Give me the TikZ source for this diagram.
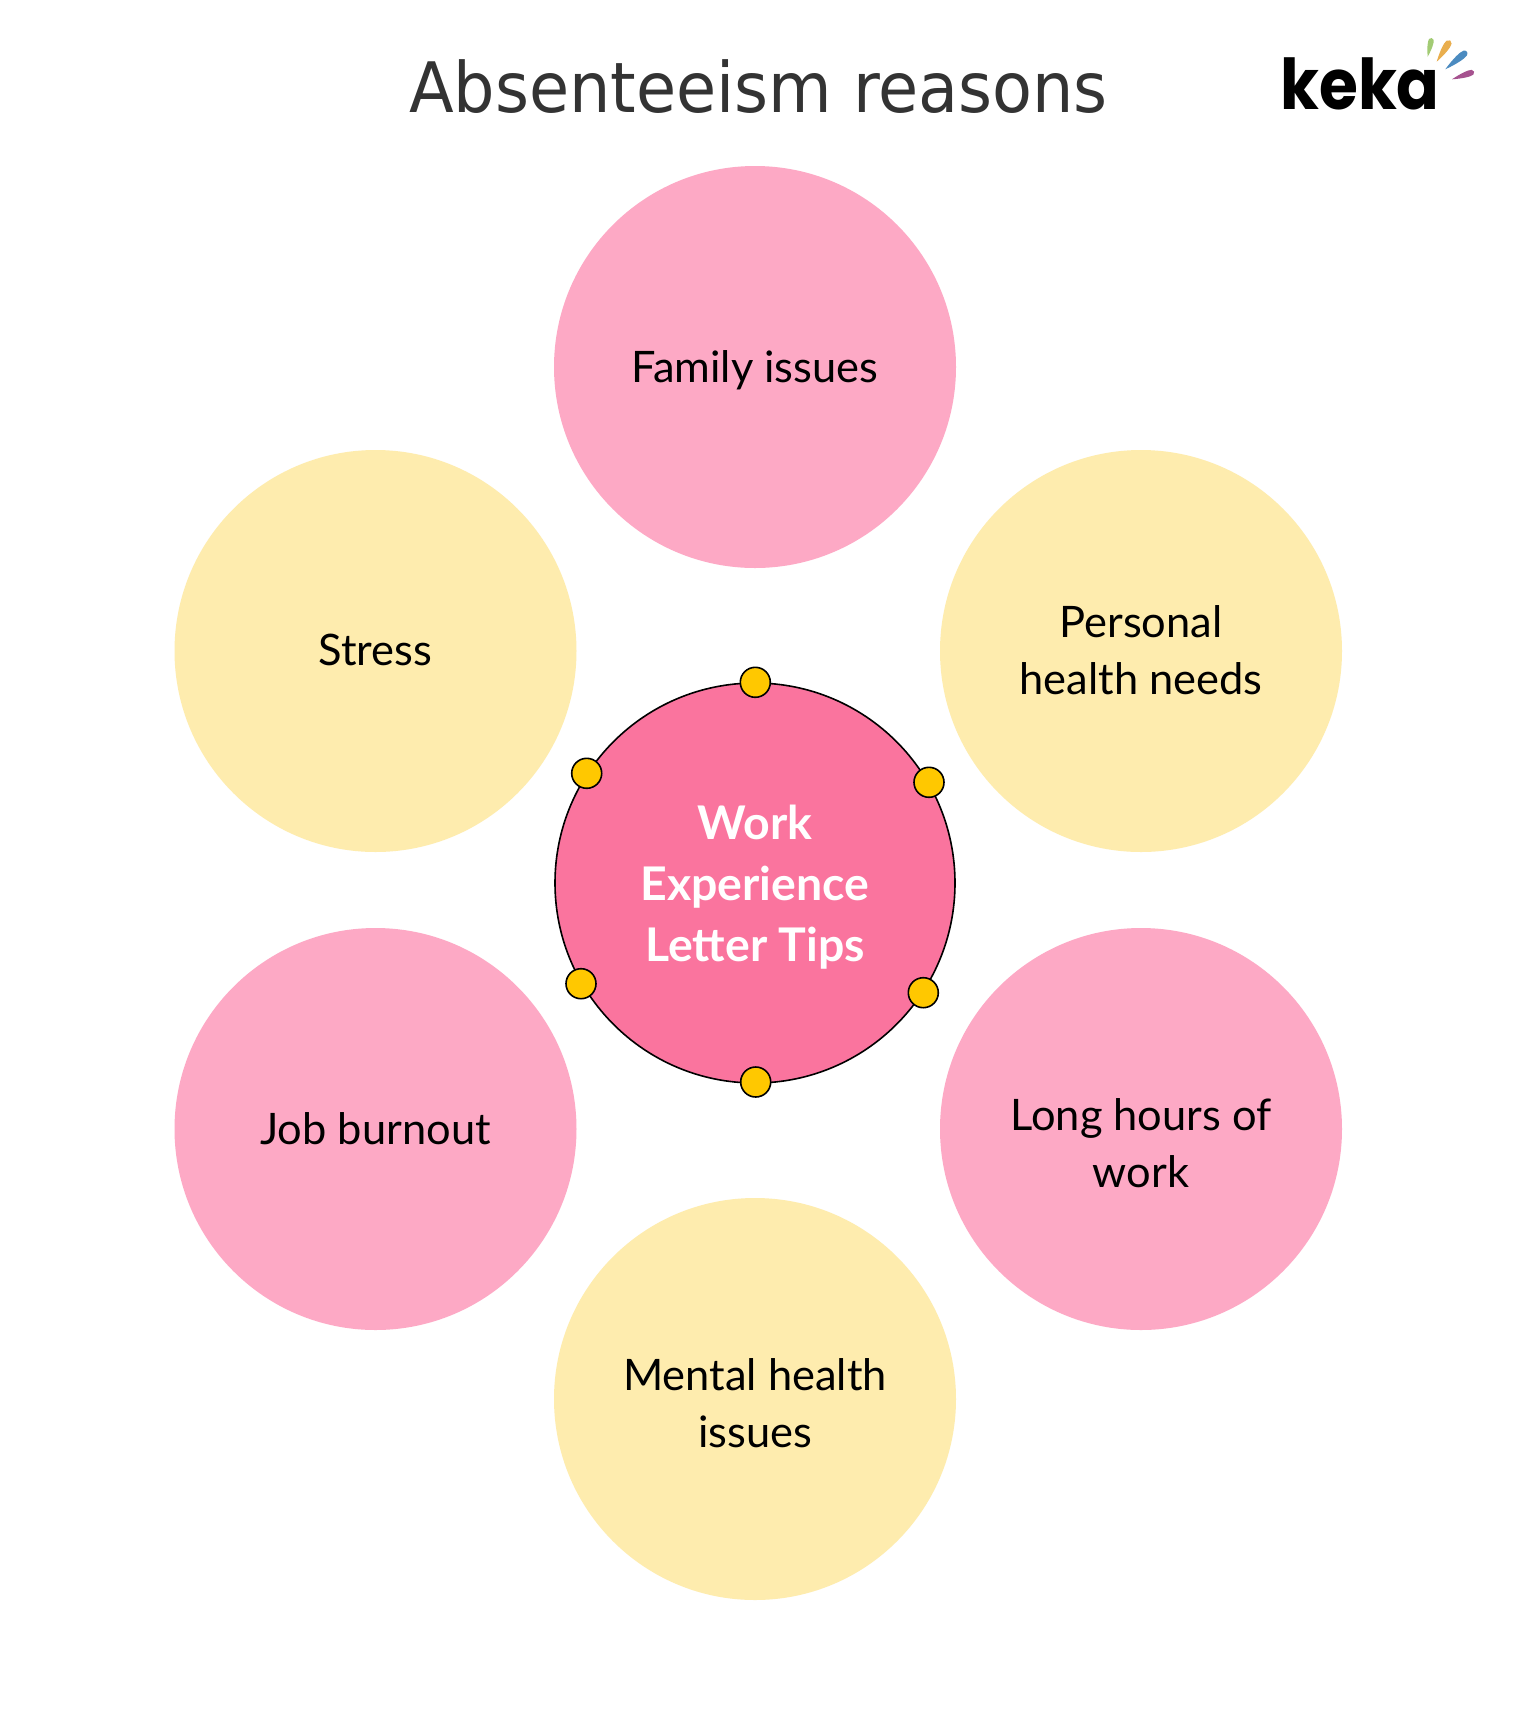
\documentclass[tikz,border=0pt]{standalone}
\usepackage{fontspec}
\setmainfont{Lato}
\newfontfamily\titlefont[FakeStretch=0.938]{DejaVu Sans}
\newfontfamily\logofont[FakeStretch=0.9]{Poppins}
\definecolor{pinkc}{HTML}{FDA9C5}
\definecolor{yellowc}{HTML}{FEECAE}
\definecolor{centerc}{HTML}{FA749E}
\definecolor{dotc}{HTML}{FFC800}
\definecolor{titlec}{HTML}{333333}
\definecolor{petalg}{HTML}{A2CB74}
\definecolor{petalo}{HTML}{E9AE4E}
\definecolor{petalb}{HTML}{4B8BC0}
\definecolor{petalp}{HTML}{A6528F}
\newcommand{\petal}[6]{\fill[#6,shift={(#1,#2)},rotate=#3] (0,0) .. controls (#4*0.45,#5) and (#4*0.8,#5*1.3) .. (#4*0.93,#5*0.9) .. controls (#4*1.03,#5*0.5) and (#4*1.03,-#5*0.5) .. (#4*0.93,-#5*0.9) .. controls (#4*0.8,-#5*1.3) and (#4*0.45,-#5) .. (0,0) -- cycle;}
\tikzset{
  bubble/.style={circle,draw=none,minimum size=201pt,inner sep=0pt},
  pinkbub/.style={bubble,fill=pinkc},
  yellowbub/.style={bubble,fill=yellowc},
  bubtext/.style={inner sep=0pt,align=center,text=black,font=\fontsize{21.7}{28.4}\selectfont},
  hub/.style={circle,draw=black,line width=0.8pt,fill=centerc,minimum size=200pt,inner sep=0pt},
  hubtext/.style={inner sep=0pt,align=center,text=white,font=\fontsize{23.2}{30.5}\selectfont\bfseries},
  dotn/.style={circle,draw=black,line width=0.8pt,fill=dotc,minimum size=15pt,inner sep=0pt}
}
\begin{document}
\begin{tikzpicture}[x=0.5pt,y=-0.5pt]
\useasboundingbox (0,0) rectangle (1517,1709);
\fill[white] (0,0) rectangle (1517,1709);
\node[anchor=center,text=titlec,font=\titlefont\fontsize{34.8}{42}\selectfont] (title) at (758.5,87) {Absenteeism reasons};
\node[pinkbub] (family) at (755,367) {};
\node[bubtext] (familyt) at ([yshift=-1.8pt]family) {Family issues};
\node[yellowbub] (personal) at (1141,651) {};
\node[bubtext] (personalt) at ([yshift=0.5pt]personal) {Personal\\health needs};
\node[yellowbub] (stress) at (375.5,651) {};
\node[bubtext] (stresst) at ([yshift=0.3pt]stress) {Stress};
\node[pinkbub] (burnout) at (375.5,1129) {};
\node[bubtext] (burnoutt) at ([yshift=0.3pt]burnout) {Job burnout};
\node[pinkbub] (long) at (1141,1129) {};
\node[bubtext] (longt) at ([yshift=-7pt]long) {Long hours of\\work};
\node[yellowbub] (mental) at (755,1399) {};
\node[bubtext] (mentalt) at ([yshift=-2pt]mental) {Mental health\\issues};
\node[hub] (hub) at (755,883) {};
\node[hubtext] (hubt) at ([yshift=-2pt]hub) {Work\\Experience\\Letter Tips};
\node[dotn] (d1) at (755.3,682.3) {};
\node[dotn] (d2) at (586.7,773.3) {};
\node[dotn] (d3) at (929,782.3) {};
\node[dotn] (d4) at (581,983.7) {};
\node[dotn] (d5) at (923.3,992.7) {};
\node[dotn] (d6) at (755.7,1082) {};
\node[inner sep=0pt,text=black,font=\logofont\bfseries\fontsize{35}{35}\selectfont] (logo) at (1360,83.5) {keka};
\petal{1427.7}{56.7}{78}{19}{2.6}{petalg}
\petal{1436.7}{61.7}{57.6}{25}{3.2}{petalo}
\petal{1445.3}{69.3}{39.4}{27.7}{3.2}{petalb}
\petal{1452}{79.3}{19}{23.3}{2.8}{petalp}
\end{tikzpicture}
\end{document}
